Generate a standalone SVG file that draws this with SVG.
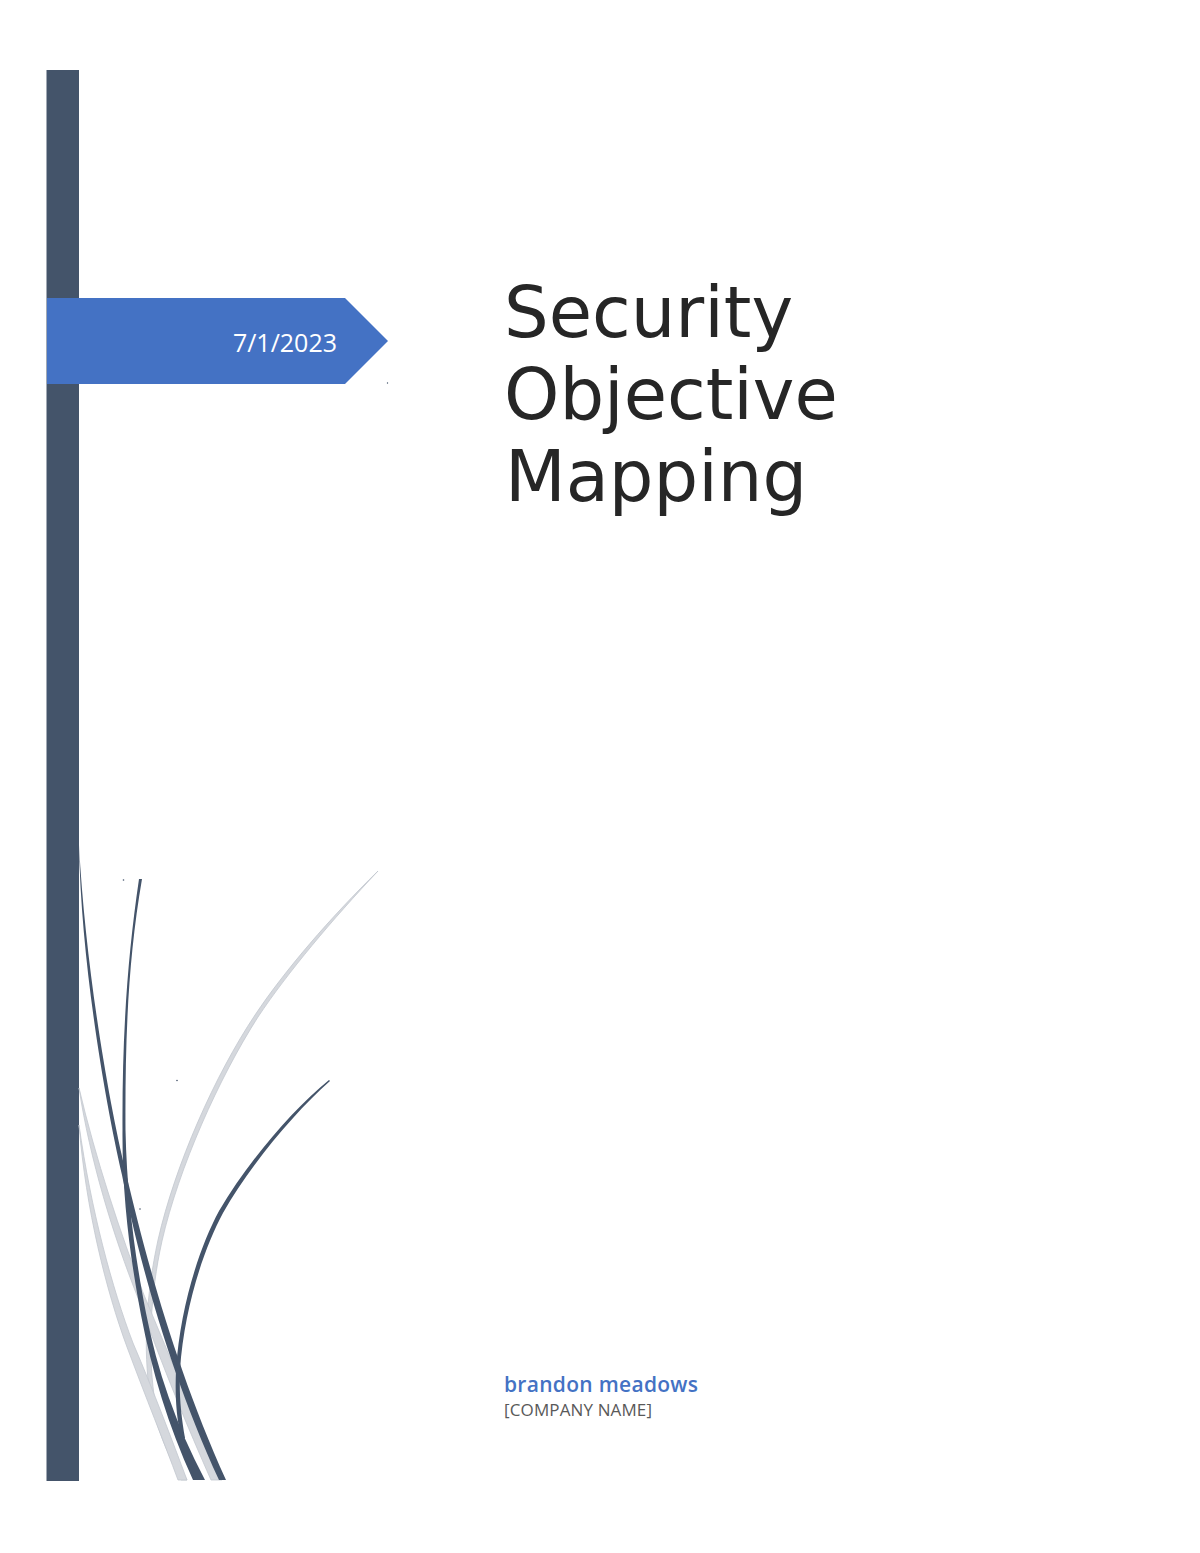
<svg xmlns="http://www.w3.org/2000/svg" width="1200" height="1553" viewBox="0 0 1200 1553">
<style>
.dark{fill:#44546a}
.light{fill:#d5d8dd;stroke:#c3c8cf;stroke-width:.8}
.title{font-family:"DejaVu Sans",sans-serif;font-size:70.400px;fill:#262626}
</style>
<rect width="1200" height="1553" fill="#fff"/>
<g id="sidebar"><rect class="dark" x="46.500" y="70" width="32.500" height="1411"/></g>
<g id="curves">
<path class="light" d="M378,871 C330,918 285,970 255,1015 C215,1075 175,1165 158,1240 C146,1295 143,1350 150,1395 C155,1425 168,1455 181,1480 L187,1480 C173,1455 160,1425 154,1395 C148,1350 150,1295 162,1241 C179,1167 219,1078 258,1017 C288,972 332,920 378,871Z"/>
<path class="light" d="M79,1088 C90,1160 113,1235 138,1298 C163,1368 188,1428 211,1480 L222,1480 C198,1425 172,1362 144,1295 C120,1232 96,1160 79,1088Z"/>
<path class="light" d="M79,1125 C86,1210 106,1290 127,1347 C146,1398 164,1442 178,1480 L187,1480 C172,1440 154,1392 133,1343 C112,1288 91,1210 79,1125Z"/>
<path class="dark" d="M79,845 C85,960 107,1095 126,1173 C144,1250 174,1365 226,1480 L219,1480 C167,1367 137,1251 122,1175 C104,1096 81,960 79,845Z"/>
<path class="dark" d="M142,879 C128,960 125,1040 125.500,1130 C127,1200 136,1262 146,1313 C157,1370 176,1425 205,1480 L193,1480 C168,1425 152,1372 141,1315 C131,1262 122,1200 122.500,1130 C122,1040 127,960 139,879Z"/>
<path class="dark" d="M330,1081 C295,1112 250,1165 223,1213 C203,1250 184,1310 180,1370 C179,1395 181,1415 185,1438 L181,1438 C176,1415 175,1395 176,1370 C180,1308 199,1248 219,1211 C247,1163 292,1110 329,1080Z"/>
<circle class="dark" cx="123.500" cy="880" r=".8"/>
<circle class="dark" cx="177" cy="1080.500" r=".8"/>
<circle class="dark" cx="140" cy="1209" r=".8"/>
<circle class="dark" cx="387.500" cy="383" r=".7"/>
</g>
<g id="date-tag">
<polygon points="47,298 345,298 388,341 345,384 47,384" fill="#4472c4"/>
<text x="337" y="352" text-anchor="end" font-family="'Open Sans',sans-serif" font-size="25" fill="#fff">7/1/2023</text>
</g>
<g id="title">
<text class="title" x="504" y="337">Security</text>
<text class="title" x="504" y="419">Objective</text>
<text class="title" x="505" y="501">Mapping</text>
</g>
<g id="author">
<text x="504" y="1392" font-family="'Open Sans',sans-serif" font-size="21" font-weight="600" fill="#4472c4" textLength="194">brandon meadows</text>
<text x="504" y="1416" font-family="'Open Sans',sans-serif" font-size="17" font-weight="500" fill="#595959" textLength="148">[COMPANY NAME]</text>
</g>
</svg>
